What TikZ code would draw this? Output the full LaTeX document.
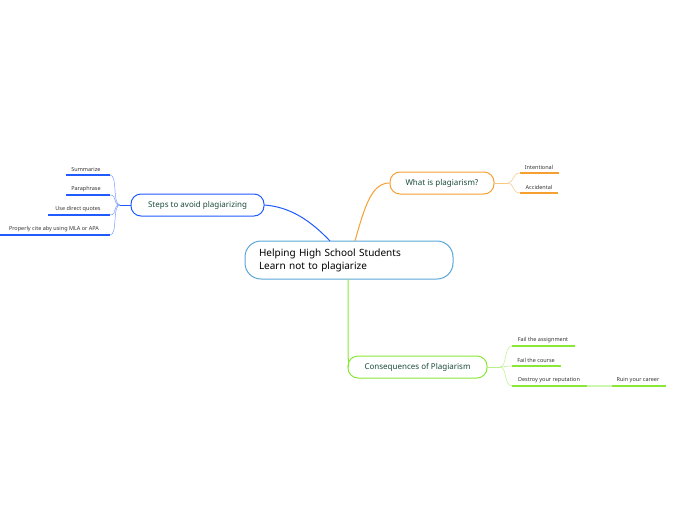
\documentclass[tikz,border=0pt]{standalone}
\usepackage{fontspec}
\setmainfont{Noto Sans}
\definecolor{rootline}{HTML}{5AA6D8}
\definecolor{blueline}{HTML}{1F5BFF}
\definecolor{orangeline}{HTML}{F5A030}
\definecolor{greenline}{HTML}{88E838}
\definecolor{topictext}{HTML}{1A4A3A}
\tikzset{
  topic/.style={draw, line width=1pt, rounded corners=10pt, fill=white, text=topictext,
    font=\fontsize{8}{9}\selectfont\bfseries, minimum height=22pt, inner xsep=6pt},
  leaf/.style={font=\fontsize{5.5}{6}\selectfont, text=black!80, inner sep=1pt},
  under/.style={line width=1.2pt},
  twig/.style={line width=0.5pt}
}
\begin{document}
\begin{tikzpicture}[x=1pt, y=-1pt]
\useasboundingbox (0,0) rectangle (697,520);
\node[topic, draw=rootline, minimum width=208pt, minimum height=38pt, rounded corners=16pt,
  align=left, font=\fontsize{10}{13}\selectfont\bfseries, text=black, text width=180pt] (root) at (349,260)
  {Helping High School Students\\Learn not to plagiarize};
% main topics
\node[topic, draw=blueline, minimum width=133pt] (steps) at (197.5,205) {Steps to avoid plagiarizing};
\node[topic, draw=orangeline, minimum width=104pt] (what) at (442,183) {What is plagiarism?};
\node[topic, draw=greenline, minimum width=139pt] (cons) at (417.5,367) {Consequences of Plagiarism};
\coordinate (rootT1) at (330,241);
\coordinate (rootT2) at (355,241);
\coordinate (rootB) at (348,279);
\draw[blueline, line width=1pt] (rootT1) .. controls (310,220) and (290,207) .. (steps.east);
\draw[orangeline, line width=1pt] (rootT2) .. controls (365,205) and (372,183) .. (what.west);
\draw[greenline, line width=1pt] (rootB) -- (348,352) .. controls (348,362) and (350,367) .. (cons.west);
% blue leaves
\node[leaf, anchor=south] (sum) at (86,173) {Summarize};
\node[leaf, anchor=south] (para) at (86,193) {Paraphrase};
\node[leaf, anchor=south] (quote) at (78,213) {Use direct quotes};
\node[leaf, anchor=south] (cite) at (54,233) {Properly cite aby using MLA or APA};
\coordinate (bhub) at (120,205);
\draw[blueline, twig] (steps.west) -- (bhub);
\foreach \y/\x in {175/66, 195/66, 215/48, 235/0}{
  \draw[blueline!60, twig] (bhub) .. controls (112,205) and (118,\y) .. (110,\y);
  \draw[blueline, under] (110,\y) -- (\x,\y);
}
% orange leaves
\node[leaf, anchor=south] (inten) at (539,171) {Intentional};
\node[leaf, anchor=south] (accid) at (539,191) {Accidental};
\coordinate (ohub) at (508,183);
\draw[orangeline!60, twig] (what.east) -- (ohub);
\foreach \y/\x in {173/559, 193/558}{
  \draw[orangeline!60, twig] (ohub) .. controls (514,183) and (512,\y) .. (520,\y);
  \draw[orangeline, under] (520,\y) -- (\x,\y);
}
% green leaves
\node[leaf, anchor=south] (failA) at (543,344) {Fail the assignment};
\node[leaf, anchor=south] (failC) at (536,364) {Fail the course};
\node[leaf, anchor=south] (destroy) at (549,384) {Destroy your reputation};
\node[leaf, anchor=south] (ruin) at (638,384) {Ruin your career};
\coordinate (ghub) at (500,367);
\draw[greenline!60, twig] (cons.east) -- (ghub);
\foreach \y/\x in {346/575, 366/561, 386/587}{
  \draw[greenline!60, twig] (ghub) .. controls (507,367) and (504,\y) .. (512,\y);
  \draw[greenline, under] (512,\y) -- (\x,\y);
}
\draw[greenline!40, under] (587,386) -- (612,386);
\draw[greenline, under] (612,386) -- (666,386);
\end{tikzpicture}
\end{document}
